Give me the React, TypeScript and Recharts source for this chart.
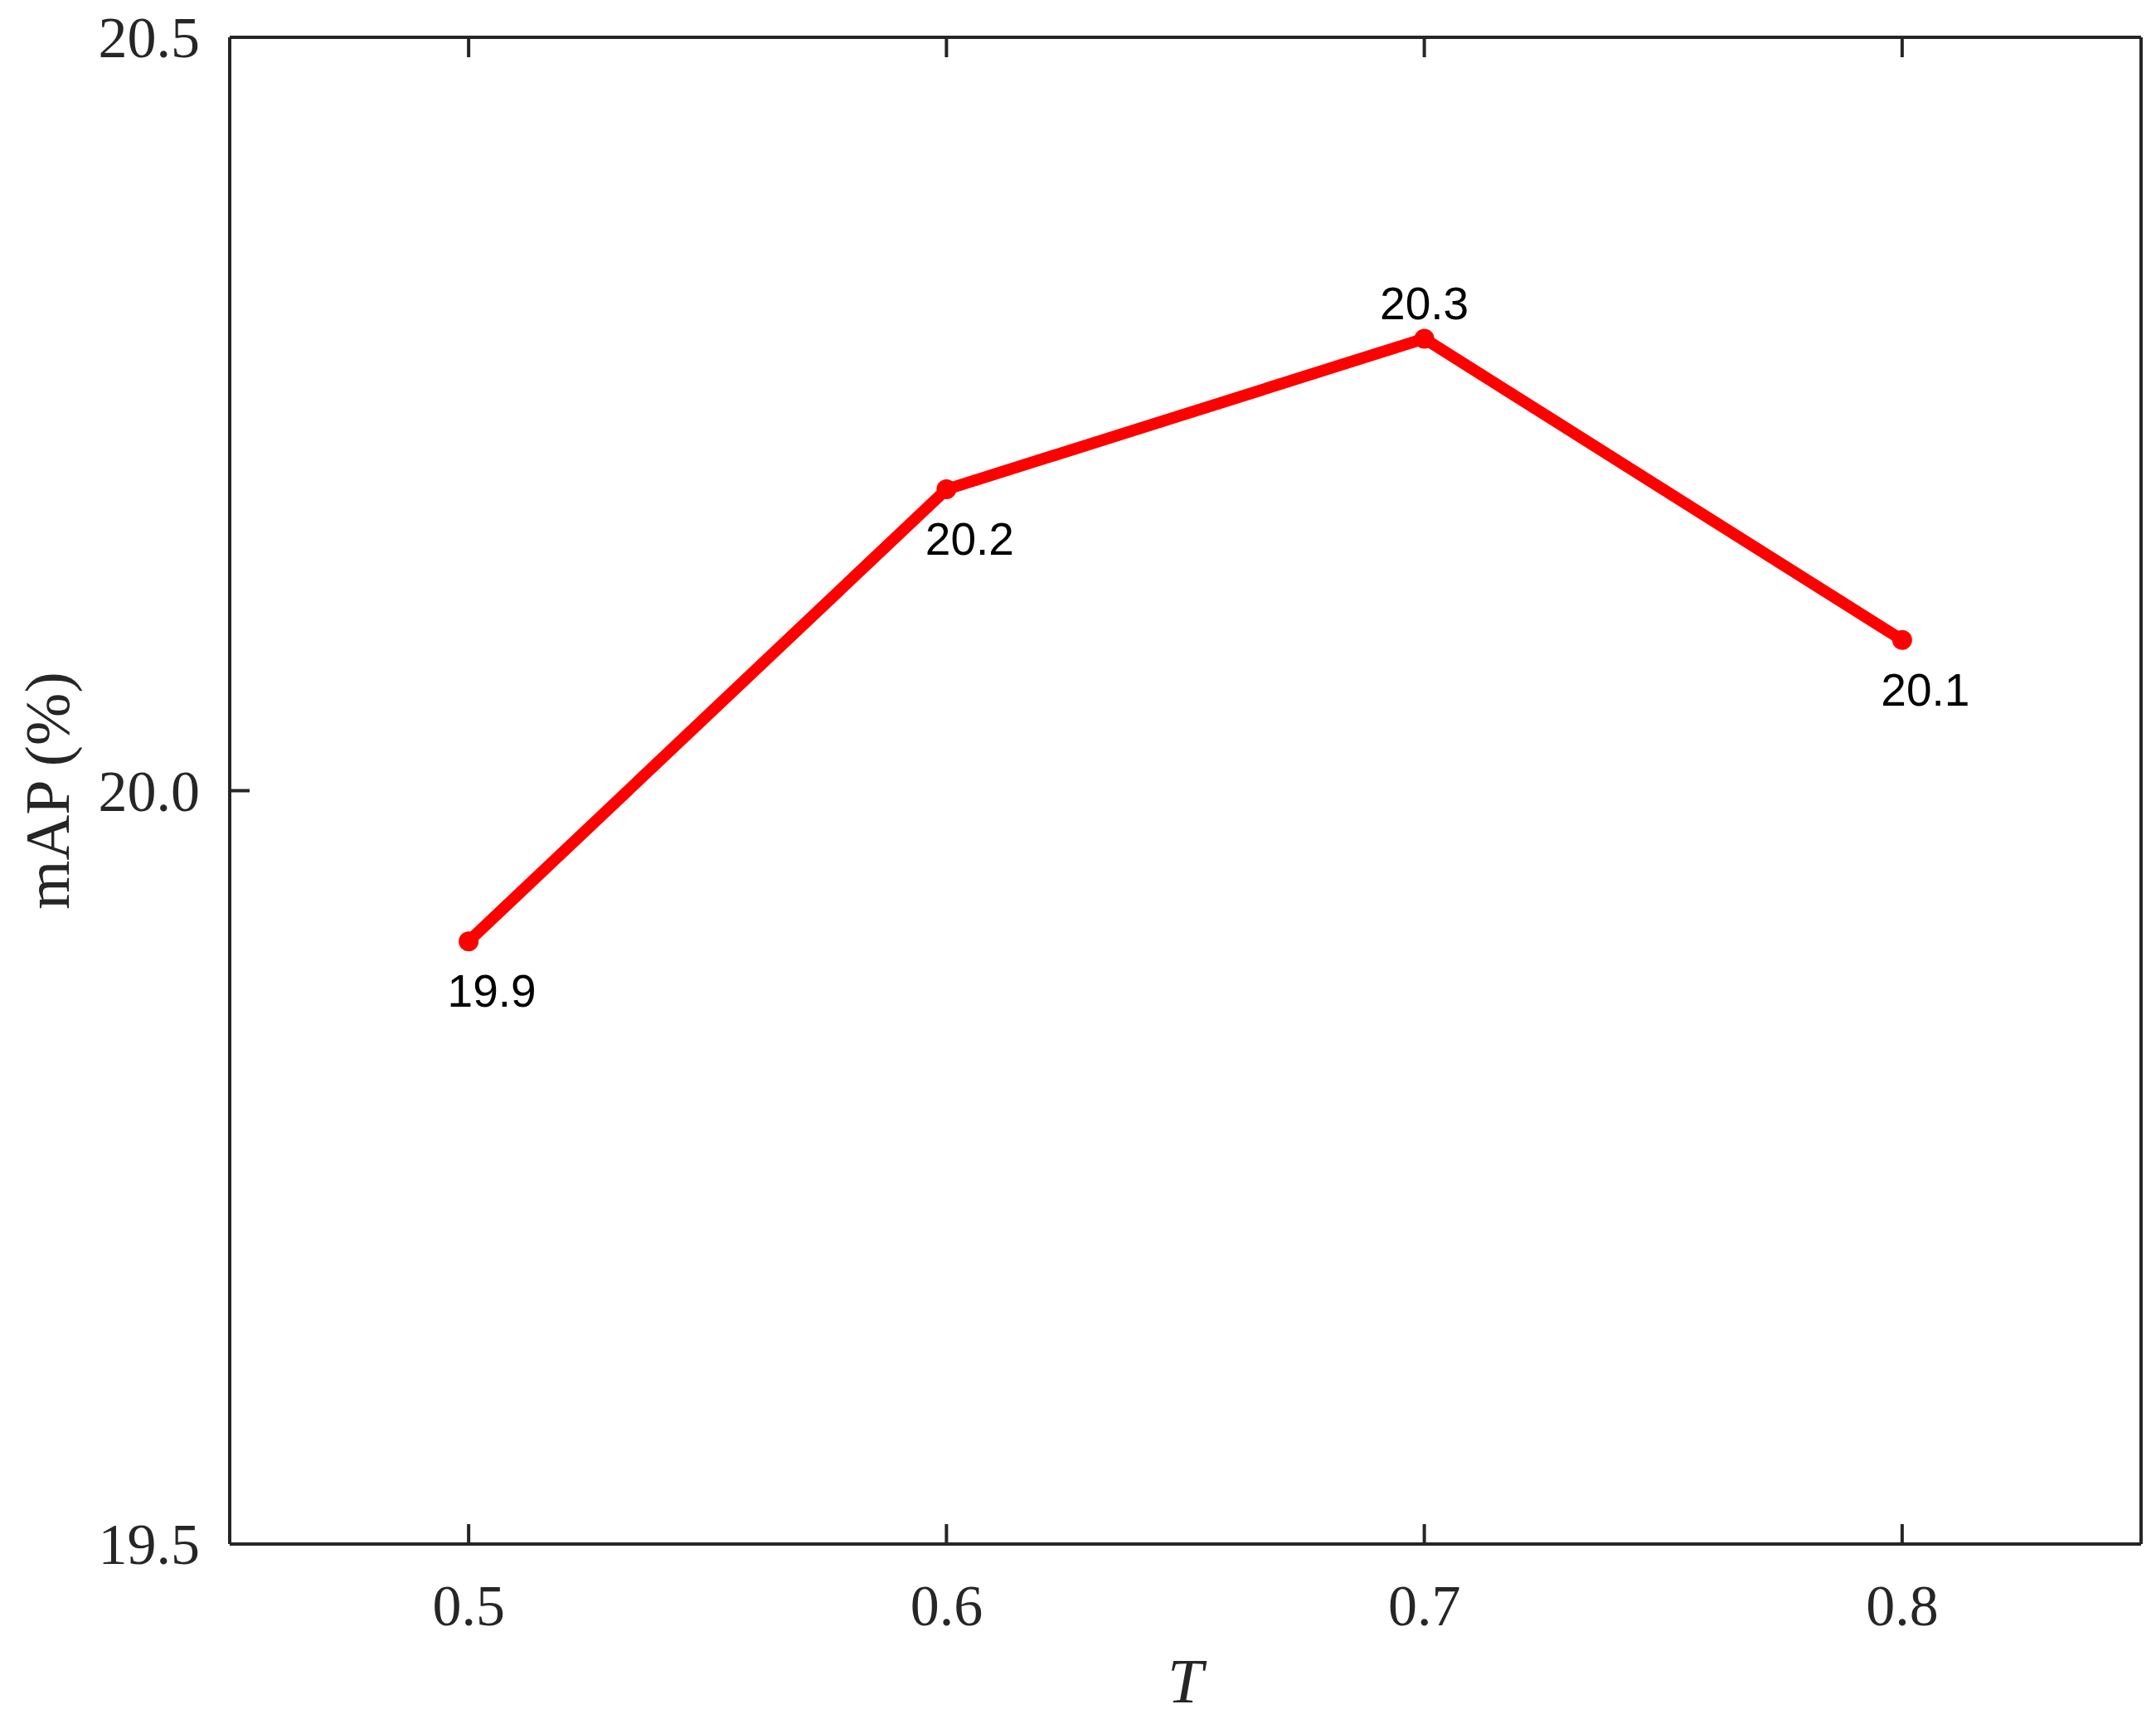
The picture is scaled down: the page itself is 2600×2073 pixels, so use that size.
import { LineChart, Line, XAxis, YAxis, LabelList } from 'recharts';

const thresholds = [0.5, 0.6, 0.7, 0.8];
const mapValues = [19.9, 20.2, 20.3, 20.1];
const xTicks = [0.5, 0.6, 0.7, 0.8];
const yTicks = [19.5, 20.0, 20.5];
// where each value label sits relative to its point
const labelSide = ['below', 'below', 'above', 'below'];

const data = thresholds.map((t, i) => ({ t, map: mapValues[i] }));

const AXIS = '#262626';
const SERIF = '"Liberation Serif", "Times New Roman", serif';
const SANS = '"Liberation Sans", Arial, sans-serif';
const TICK_LEN = 24;

// ticks point into the plot, matlab style
const BottomTick = (p: any) => (
  <g>
    <line x1={p.x} y1={p.y} x2={p.x} y2={p.y - TICK_LEN} stroke={AXIS} strokeWidth={4} />
    <text x={p.x} y={p.y + 98} textAnchor="middle" fontFamily={SERIF} fontSize={70} fill={AXIS}>
      {Number(p.payload.value).toFixed(1)}
    </text>
  </g>
);

const LeftTick = (p: any) => (
  <g>
    <line x1={p.x} y1={p.y} x2={p.x + TICK_LEN} y2={p.y} stroke={AXIS} strokeWidth={4} />
    <text x={p.x - 36} y={p.y + 24} textAnchor="end" fontFamily={SERIF} fontSize={70} fill={AXIS}>
      {Number(p.payload.value).toFixed(1)}
    </text>
  </g>
);

const TopTick = (p: any) => (
  <line x1={p.x} y1={p.y} x2={p.x} y2={p.y + TICK_LEN} stroke={AXIS} strokeWidth={4} />
);

const RightTick = (p: any) => (
  <line x1={p.x} y1={p.y} x2={p.x - TICK_LEN} y2={p.y} stroke={AXIS} strokeWidth={4} />
);

const ValueLabel = (props: any) => {
  const { x, y, value, index } = props;
  const above = labelSide[index] === 'above';
  return (
    <text
      x={above ? x : x + 28}
      y={above ? y - 23 : y + 79}
      textAnchor="middle"
      fontFamily={SANS}
      fontSize={55}
      fill="#000"
    >
      {Number(value).toFixed(1)}
    </text>
  );
};

const axisLine = { stroke: AXIS, strokeWidth: 4 };

export default function App() {
  return (
    <div style={{ position: 'absolute', left: 0, top: 0, background: '#fff' }}>
      <LineChart
        width={2600}
        height={2073}
        data={data}
        margin={{ top: 44, right: 17, left: 0, bottom: 0 }}
      >
        <XAxis
          xAxisId="bottom"
          dataKey="t"
          type="number"
          domain={[0.45, 0.85]}
          ticks={xTicks}
          height={211}
          tickSize={0}
          tickMargin={0}
          tickLine={false}
          axisLine={axisLine}
          tick={BottomTick}
          label={{
            content: (p: any) => (
              <text
                x={p.viewBox.x + p.viewBox.width / 2}
                y={p.viewBox.y + 191}
                textAnchor="middle"
                fontFamily={SERIF}
                fontStyle="italic"
                fontSize={77}
                fill={AXIS}
              >
                T
              </text>
            ),
          }}
        />
        <XAxis
          xAxisId="top"
          orientation="top"
          dataKey="t"
          type="number"
          domain={[0.45, 0.85]}
          ticks={xTicks}
          height={1}
          tickSize={0}
          tickMargin={0}
          tickLine={false}
          axisLine={axisLine}
          tick={TopTick}
        />
        <YAxis
          yAxisId="left"
          type="number"
          domain={[19.5, 20.5]}
          ticks={yTicks}
          width={277}
          tickSize={0}
          tickMargin={0}
          tickLine={false}
          axisLine={axisLine}
          tick={LeftTick}
          label={{
            content: (p: any) => {
              const cx = p.viewBox.x + 83;
              const cy = p.viewBox.y + p.viewBox.height / 2;
              return (
                <text
                  x={cx}
                  y={cy}
                  transform={`rotate(-90 ${cx} ${cy})`}
                  textAnchor="middle"
                  fontFamily={SERIF}
                  fontSize={76}
                  fill={AXIS}
                >
                  mAP (%)
                </text>
              );
            },
          }}
        />
        <YAxis
          yAxisId="right"
          orientation="right"
          type="number"
          domain={[19.5, 20.5]}
          ticks={yTicks}
          width={1}
          tickSize={0}
          tickMargin={0}
          tickLine={false}
          axisLine={axisLine}
          tick={RightTick}
        />
        <Line
          xAxisId="bottom"
          yAxisId="left"
          dataKey="map"
          type="linear"
          stroke="#ff0000"
          strokeWidth={14}
          dot={{ r: 12, fill: '#ff0000', stroke: 'none' }}
          activeDot={false}
          isAnimationActive={false}
        >
          <LabelList dataKey="map" content={ValueLabel} />
        </Line>
      </LineChart>
    </div>
  );
}
